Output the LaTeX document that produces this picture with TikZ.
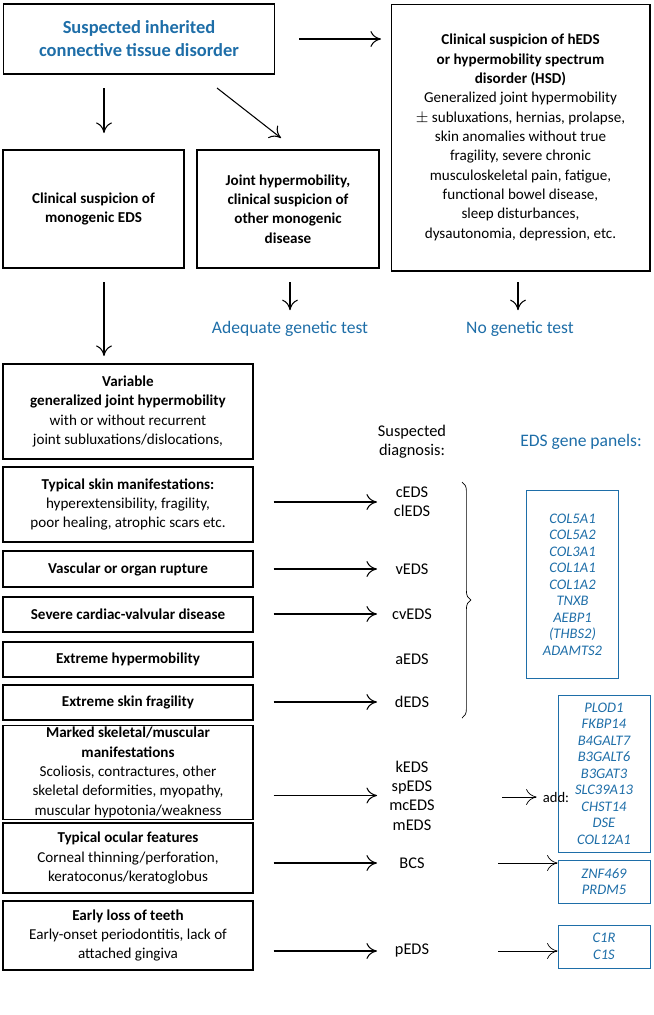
\documentclass[tikz,border=0pt]{standalone}
\usepackage{fontspec}
\setmainfont{Carlito}
\usetikzlibrary{arrows.meta,decorations.pathreplacing}
\definecolor{edsblue}{RGB}{30,110,168}
\begin{document}
\begin{tikzpicture}[x=0.02cm,y=-0.02cm,
    box/.style={shape=rectangle,draw=black,semithick,align=center,inner sep=1pt,
      font=\fontsize{8.6}{11}\selectfont},
    gene/.style={shape=rectangle,draw=edsblue,align=center,inner sep=1pt,text=edsblue,
      font=\fontsize{8.3}{9.4}\selectfont\itshape,minimum width=1.84cm},
    diag/.style={align=center,font=\fontsize{9.3}{11}\selectfont},
    bluetxt/.style={text=edsblue,font=\fontsize{10}{12}\selectfont},
    bigarr/.style={->,semithick,>={To[length=6pt,width=9pt]}},
    thinarr/.style={->,thin,>={To[length=6pt,width=9pt]}}]
      \useasboundingbox (0,0) rectangle (653,1015);
      % top row
      \node[box,minimum width=5.42cm,minimum height=1.4cm,text=edsblue,
        font=\fontsize{10.5}{13}\selectfont\bfseries] (susp) at (139,39)
        {Suspected inherited\\connective tissue disorder};
      \node[box,minimum width=5.18cm,minimum height=5.34cm] (heds) at (520.5,137.5)
        {\textbf{Clinical suspicion of hEDS}\\\textbf{or hypermobility spectrum}\\\textbf{disorder (HSD)}\\
         Generalized joint hypermobility\\$\pm$ subluxations, hernias, prolapse,\\
         skin anomalies without true\\fragility, severe chronic\\musculoskeletal pain, fatigue,\\
         functional bowel disease,\\sleep disturbances,\\dysautonomia, depression, etc.};
      \node[box,minimum width=3.62cm,minimum height=2.36cm,font=\fontsize{8.6}{11}\selectfont\bfseries]
        (mono) at (93.5,209) {Clinical suspicion of\\monogenic EDS};
      \node[box,minimum width=3.64cm,minimum height=2.36cm,font=\fontsize{8.6}{11}\selectfont\bfseries]
        (other) at (288,209) {Joint hypermobility,\\clinical suspicion of\\other monogenic\\disease};
      \coordinate (a1) at (299,39);  \coordinate (a2) at (381,39);
      \draw[bigarr] (a1) -- (a2);
      \coordinate (b1) at (104,88);  \coordinate (b2) at (104,133);
      \draw[bigarr] (b1) -- (b2);
      \coordinate (c1) at (217,88);  \coordinate (c2) at (281,138);
      \draw[bigarr] (c1) -- (c2);
      % second row
      \node[bluetxt] (adeq) at (290,329) {Adequate genetic test};
      \node[bluetxt] (nogen) at (520,329) {No genetic test};
      \coordinate (e1) at (290,282); \coordinate (e2) at (518,282);
      \draw[bigarr] (e1) -- ([yshift=0.1cm]adeq.north);
      \draw[bigarr] (e2) -- ([yshift=0.1cm]nogen.north -| e2);
      \coordinate (d1) at (104,282); \coordinate (d2) at (104,356);
      \draw[bigarr] (d1) -- (d2);
      % left column
      \node[box,minimum width=5cm,minimum height=1.9cm] (var) at (128,411.5)
        {\textbf{Variable}\\\textbf{generalized joint hypermobility}\\with or without recurrent\\joint subluxations/dislocations,};
      \node[box,minimum width=5cm,minimum height=1.5cm] (skin) at (128,504.5)
        {\textbf{Typical skin manifestations:}\\hyperextensibility, fragility,\\poor healing, atrophic scars etc.};
      \node[box,minimum width=5cm,minimum height=0.72cm,font=\fontsize{8.6}{11}\selectfont\bfseries]
        (vasc) at (128,569) {Vascular or organ rupture};
      \node[box,minimum width=5cm,minimum height=0.7cm,font=\fontsize{8.6}{11}\selectfont\bfseries]
        (card) at (128,614.5) {Severe cardiac-valvular disease};
      \node[box,minimum width=5cm,minimum height=0.7cm,font=\fontsize{8.6}{11}\selectfont\bfseries]
        (hyper) at (128,659.5) {Extreme hypermobility};
      \node[box,minimum width=5cm,minimum height=0.7cm,font=\fontsize{8.6}{11}\selectfont\bfseries]
        (frag) at (128,702.5) {Extreme skin fragility};
      \node[box,minimum width=5cm,minimum height=1.7cm] (skel) at (128,772.5)
        {\textbf{Marked skeletal/muscular}\\\textbf{manifestations}\\Scoliosis, contractures, other\\skeletal deformities, myopathy,\\muscular hypotonia/weakness};
      \node[box,minimum width=5cm,minimum height=1.4cm] (ocul) at (128,858)
        {\textbf{Typical ocular features}\\Corneal thinning/perforation,\\keratoconus/keratoglobus};
      \node[box,minimum width=5cm,minimum height=1.38cm] (teeth) at (128,935.5)
        {\textbf{Early loss of teeth}\\Early-onset periodontitis, lack of\\attached gingiva};
      % suspected diagnosis
      \node[diag] (sdiag) at (412,442) {Suspected\\diagnosis:};
      \node[diag] (dc) at (412,502) {cEDS\\clEDS};
      \node[diag] (dv) at (412,569) {vEDS};
      \node[diag] (dcv) at (412,614) {cvEDS};
      \node[diag] (da) at (412,659) {aEDS};
      \node[diag] (dd) at (412,702) {dEDS};
      \node[diag] (dk) at (412,795.5) {kEDS\\spEDS\\mcEDS\\mEDS};
      \node[diag] (dbcs) at (412,863) {BCS};
      \node[diag] (dp) at (412,951) {pEDS};
      \foreach \src/\dst in {skin/dc,vasc/dv,card/dcv,frag/dd,skel/dk,ocul/dbcs,teeth/dp}
        \draw[bigarr] ([xshift=0.4cm]\src.east |- \dst.west) -- ([xshift=-0.7cm]\dst.center);
      % gene panels
      \node[bluetxt] (panels) at (581,442) {EDS gene panels:};
      \draw[decorate,decoration={brace,amplitude=0.5em}] (462,482) -- (462,718);
      \node[gene,minimum height=3.76cm] (g1) at (572.5,584.5)
        {COL5A1\\COL5A2\\COL3A1\\COL1A1\\COL1A2\\TNXB\\AEBP1\\(THBS2)\\ADAMTS2};
      \node[gene,minimum height=3.14cm] (g2) at (604,773.5)
        {PLOD1\\FKBP14\\B4GALT7\\B3GALT6\\B3GAT3\\SLC39A13\\CHST14\\DSE\\COL12A1};
      \node[gene,minimum height=0.86cm] (g3) at (604,881.5) {ZNF469\\PRDM5};
      \node[gene,minimum height=0.86cm] (g4) at (604,946.5) {C1R\\C1S};
      \node[diag,font=\fontsize{8.3}{10}\selectfont] (add) at (556,797) {add:};
      \coordinate (f1) at (502,797);
      \draw[thinarr] (f1) -- (add.west);
      \coordinate (f2) at (498,863);
      \draw[thinarr] (f2) -- (g3.west |- f2);
      \coordinate (f3) at (498,951);
      \draw[thinarr] (f3) -- (g4.west |- f3);
\end{tikzpicture}
\end{document}
